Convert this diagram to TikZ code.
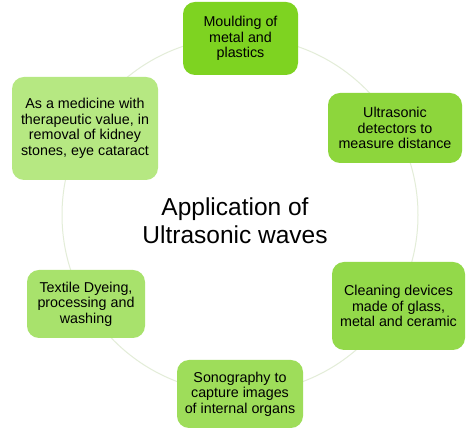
\documentclass[tikz,border=0pt]{standalone}
\usepackage{fontspec}
\setmainfont{Liberation Sans}
\definecolor{cA}{HTML}{7ED321}
\definecolor{cB}{HTML}{8DD63C}
\definecolor{cC}{HTML}{B6E882}
\definecolor{cD}{HTML}{93D94A}
\definecolor{cE}{HTML}{A8E26C}
\definecolor{cF}{HTML}{9EDD5A}
\definecolor{ring}{HTML}{E3EDD8}
\begin{document}
\begin{tikzpicture}[x=1pt,y=1pt,
  appbox/.style={draw=none,rounded corners=12pt,align=center,inner sep=0pt,
    font=\fontsize{14.3}{15.6}\selectfont,text=black},
  centretext/.style={align=center,font=\fontsize{24.5}{28}\selectfont}]
\useasboundingbox (0,0) rectangle (474,433);
\fill[white] (0,0) rectangle (474,433);
\draw[ring,line width=1pt] (240,218) circle (178);
\node[appbox,fill=cA,minimum width=115,minimum height=73] (mould) at (240.5,394.5) {Moulding of\\metal and\\plastics};
\node[appbox,fill=cB,minimum width=134,minimum height=70] (detect) at (395,305) {Ultrasonic\\detectors to\\measure distance};
\node[appbox,fill=cC,minimum width=146,minimum height=103] (medic) at (85,304.5) {As a medicine with\\therapeutic value, in\\removal of kidney\\stones, eye cataract};
\node[appbox,fill=cD,minimum width=133,minimum height=88] (clean) at (398.5,127) {Cleaning devices\\made of glass,\\metal and ceramic};
\node[appbox,fill=cE,minimum width=118,minimum height=68] (textile) at (86,129) {Textile Dyeing,\\processing and\\washing};
\node[appbox,fill=cF,minimum width=126,minimum height=68] (sono) at (240,39) {Sonography to\\capture images\\of internal organs};
\node[centretext] (title) at (235,212) {Application of\\Ultrasonic waves};
\end{tikzpicture}
\end{document}
